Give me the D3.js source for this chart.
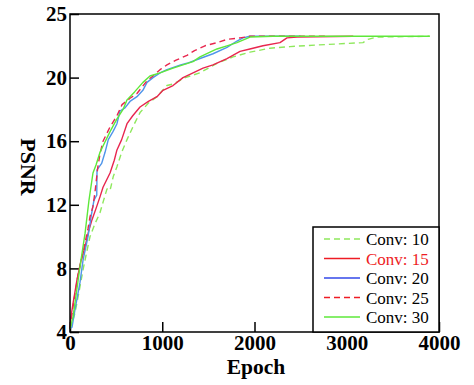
<!DOCTYPE html>
<html>
<head>
<meta charset="utf-8">
<script src="https://cdn.jsdelivr.net/npm/d3@7"></script>
<style>
  body { margin: 0; background: #fff; }
  svg { display: block; }
  svg text { font-family: 'Liberation Serif', 'Times New Roman', Times, serif; }
</style>
</head>
<body>
<svg id="chart"></svg>
<script>
// chart size
let width = 474
let height = 385
let margin = {left: 70, right: 35, top: 14, bottom: 53}

// data: [epoch, PSNR]
let conv10 = [[0,4.2],[22,4.55],[54,5.2],[100,6.6],[141,7.9],[180,9.0],[217,10.0],[270,10.8],[325,11.5],[360,12.2],[401,13.0],[434,12.9],[470,13.8],[509,14.4],[560,15.3],[618,16.1],[690,17.0],[759,17.8],[850,18.4],[943,18.8],[1051,19.5],[1117,19.6],[1250,20.0],[1409,20.3],[1593,20.9],[1767,21.3],[1951,21.6],[2168,21.85],[2385,21.95],[2677,22.05],[3176,22.2],[3230,22.4],[3328,22.55],[3900,22.6]]
let conv15 = [[0,4.2],[10,4.95],[33,5.8],[76,7.3],[120,8.5],[163,9.35],[200,10.3],[238,11.05],[290,11.9],[325,12.5],[358,13.1],[434,14.0],[480,14.8],[509,15.45],[560,16.1],[618,17.1],[680,17.6],[759,18.15],[850,18.5],[943,18.8],[1008,19.2],[1117,19.5],[1225,20.0],[1300,20.2],[1442,20.6],[1550,20.8],[1702,21.2],[1843,21.65],[1950,21.8],[2092,22.0],[2276,22.2],[2352,22.5],[2461,22.55],[3070,22.6]]
let conv20 = [[0,4.2],[22,4.3],[54,5.4],[108,7.1],[141,8.5],[195,10.0],[230,11.3],[260,12.3],[290,12.6],[293,14.2],[343,14.6],[380,15.3],[415,16.1],[466,16.6],[509,17.1],[542,17.9],[596,18.1],[650,18.5],[726,18.8],[790,19.2],[835,19.7],[900,20.0],[976,20.3],[1051,20.5],[1200,20.8],[1268,20.9],[1409,21.2],[1550,21.5],[1702,21.9],[1810,22.3],[1875,22.5],[1951,22.6],[2500,22.6]]
let conv25 = [[0,4.2],[33,5.6],[87,7.6],[141,9.0],[195,10.5],[217,11.25],[249,11.9],[271,12.8],[300,14.3],[325,15.2],[358,16.0],[434,16.9],[509,17.6],[564,18.3],[650,18.7],[726,19.0],[835,19.8],[900,20.1],[976,20.5],[1051,20.8],[1150,21.1],[1268,21.4],[1350,21.7],[1463,22.0],[1593,22.2],[1700,22.4],[1843,22.5],[1951,22.6],[2800,22.6]]
let conv30 = [[0,4.2],[33,4.95],[108,8.1],[163,10.2],[206,12.3],[249,14.0],[282,14.5],[325,15.3],[358,15.7],[434,16.6],[509,17.4],[575,18.0],[618,18.6],[700,19.1],[791,19.7],[867,20.1],[976,20.3],[1117,20.6],[1225,20.8],[1333,21.0],[1409,21.3],[1518,21.6],[1593,21.8],[1702,22.0],[1810,22.2],[1951,22.55],[2200,22.6],[3900,22.6]]

let seriesNames = ['Conv: 10', 'Conv: 15', 'Conv: 20', 'Conv: 25', 'Conv: 30']
let seriesData = [conv10, conv15, conv20, conv25, conv30]
let colors = ['#8ee85c', '#e8264e', '#4f95ea', '#e8264e', '#5ee83a']
let legendColors = ['#8ee85c', '#ee1c24', '#3348e8', '#ee1c24', '#5ee83a']
let dashes = ['6,4', null, null, '6,4', null]
let textColors = ['#000', '#ee1c24', '#000', '#000', '#000']

let xTicks = [0, 1000, 2000, 3000, 4000]
let yTicks = [4, 8, 12, 16, 20, 24]
let yTickLabels = ['4', '8', '12', '16', '20', '25']

let svg = d3.select('#chart')
            .attr('width', width)
            .attr('height', height)

let x = d3.scaleLinear().domain([0, 4000]).range([margin.left, width - margin.right])
let y = d3.scaleLinear().domain([4, 24]).range([height - margin.bottom, margin.top])

let tickFont = (sel) => {
    sel.attr('font-family', null)
    sel.selectAll('text')
       .style('font-weight', 'bold')
       .style('font-size', '21px')
       .attr('fill', '#000')
    sel.selectAll('line').attr('stroke', '#000').attr('stroke-width', 1.5)
    sel.select('.domain').remove()
}

// axes with inward ticks
svg.append('g')
   .attr('transform', `translate(0,${y(4)})`)
   .call(d3.axisBottom(x).tickValues(xTicks).tickFormat(d3.format('d'))
           .tickSizeInner(-10).tickSizeOuter(0).tickPadding(3))
   .call(tickFont)

svg.append('g')
   .attr('transform', `translate(${x(0)},0)`)
   .call(d3.axisLeft(y).tickValues(yTicks).tickFormat((d, i) => yTickLabels[i])
           .tickSizeInner(-9).tickSizeOuter(0).tickPadding(3))
   .call(tickFont)

// lines
let line = d3.line().x(d => x(d[0])).y(d => y(d[1]))

svg.append('g')
   .selectAll('path')
   .data(seriesData)
   .enter()
   .append('path')
   .attr('d', d => line(d))
   .attr('fill', 'none')
   .attr('stroke', (d, i) => colors[i])
   .attr('stroke-width', 1.4)
   .attr('stroke-dasharray', (d, i) => dashes[i])
   .attr('stroke-linejoin', 'round')

// frame
svg.append('rect')
   .attr('x', x(0))
   .attr('y', y(24))
   .attr('width', x(4000) - x(0))
   .attr('height', y(4) - y(24))
   .attr('fill', 'none')
   .attr('stroke', '#000')
   .attr('stroke-width', 1.5)

// axis titles
svg.append('text')
   .attr('x', 256)
   .attr('y', 374)
   .attr('text-anchor', 'middle')
   .style('font-weight', 'bold')
   .style('font-size', '21.5px')
   .text('Epoch')

svg.append('text')
   .attr('transform', 'translate(21,167) rotate(90)')
   .attr('text-anchor', 'middle')
   .style('font-weight', 'bold')
   .style('font-size', '22px')
   .text('PSNR')

// legend
let legend = svg.append('g').attr('id', 'legend')
legend.append('rect')
      .attr('x', 313)
      .attr('y', 227)
      .attr('width', x(4000) - 313)
      .attr('height', y(4) - 227)
      .attr('fill', '#fff')
      .attr('stroke', '#000')
      .attr('stroke-width', 1.5)

let items = legend.selectAll('.legend-item')
                  .data(seriesNames)
                  .enter()
                  .append('g')
                  .attr('class', 'legend-item')
                  .attr('transform', (d, i) => `translate(0,${239 + i * 19.5})`)

items.append('line')
     .attr('x1', 324).attr('x2', 360)
     .attr('stroke', (d, i) => legendColors[i])
     .attr('stroke-width', 1.6)
     .attr('stroke-dasharray', (d, i) => dashes[i])

items.append('text')
     .attr('x', 366)
     .attr('y', 6)
     .style('font-size', '17px')
     .attr('fill', (d, i) => textColors[i])
     .text(d => d)
</script>
</body>
</html>
